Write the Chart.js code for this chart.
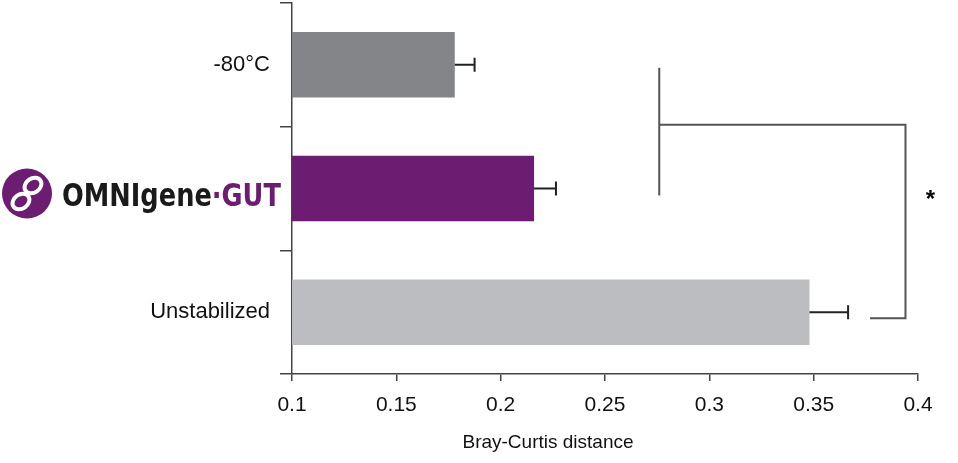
<!DOCTYPE html>
<html><head><meta charset="utf-8">
<script src="https://cdn.jsdelivr.net/npm/chart.js@4"></script>
<style>html,body{margin:0;background:#fff}#w{width:958px;height:463px}</style>
</head><body><div id="w"><canvas id="c"></canvas></div>
<script>
const categories = ['-80°C', 'OMNIgene·GUT', 'Unstabilized'];
const values = [0.178, 0.216, 0.348];
const errors = [0.0095, 0.0105, 0.0185];
const barColors = ['#848589', '#6c1d72', '#bcbdc0'];
const xTicks = [0.1, 0.15, 0.2, 0.25, 0.3, 0.35, 0.4];
const xTitle = 'Bray-Curtis distance';
const bracket = {leftX: 0.276, rightX: 0.394, lowX: 0.377, label: '*'};

const overlay = {
  id: 'overlay',
  afterDatasetsDraw(chart) {
    const {ctx, scales: {x, y}} = chart;
    ctx.save();
    ctx.strokeStyle = '#222'; ctx.lineWidth = 2;
    values.forEach((v, i) => {
      const yc = y.getPixelForValue(i);
      const x0 = x.getPixelForValue(v), x1 = x.getPixelForValue(v + errors[i]);
      ctx.beginPath(); ctx.moveTo(x0, yc); ctx.lineTo(x1, yc);
      ctx.moveTo(x1, yc - 7); ctx.lineTo(x1, yc + 7); ctx.stroke();
    });
    ctx.strokeStyle = '#555';
    const y0 = y.getPixelForValue(0), y1 = y.getPixelForValue(1), y2 = y.getPixelForValue(2);
    const xl = x.getPixelForValue(bracket.leftX), xr = x.getPixelForValue(bracket.rightX), xlow = x.getPixelForValue(bracket.lowX);
    const yTop = (y0 + y1) / 2 - 2;
    ctx.beginPath();
    ctx.moveTo(xl, y0 + 3); ctx.lineTo(xl, y1 + 7);
    ctx.moveTo(xl, yTop); ctx.lineTo(xr, yTop); ctx.lineTo(xr, y2 + 6); ctx.lineTo(xlow, y2 + 6);
    ctx.stroke();
    ctx.fillStyle = '#000'; ctx.font = 'bold 24px "Liberation Sans"';
    ctx.textAlign = 'center'; ctx.textBaseline = 'middle';
    ctx.fillText(bracket.label, xr + 25, y1 + 12);
    ctx.font = '19px "Liberation Sans"'; ctx.fillStyle = '#111';
    ctx.fillText(xTitle, 548, 443);
    const ly = y1 + 5;
    ctx.fillStyle = '#6c1d72';
    ctx.beginPath(); ctx.arc(27, ly, 25, 0, Math.PI * 2); ctx.fill();
    ctx.strokeStyle = '#fff'; ctx.lineWidth = 4;
    ctx.beginPath(); ctx.ellipse(33, ly - 8, 9, 7, -0.6, 0, Math.PI * 2); ctx.stroke();
    ctx.beginPath(); ctx.ellipse(21, ly + 8, 9, 7, -0.6, 0, Math.PI * 2); ctx.stroke();
    ctx.textAlign = 'left'; ctx.textBaseline = 'alphabetic';
    ctx.font = 'bold 31px "DejaVu Sans Condensed"';
    ctx.fillStyle = '#1a1a1a';
    const p1 = 'OMNIgene';
    ctx.save(); ctx.translate(62, ly + 12); ctx.scale(0.92, 1.05);
    ctx.fillText(p1, 0, 0);
    const w1 = ctx.measureText(p1).width;
    ctx.fillStyle = '#6c1d72';
    ctx.fillText('·GUT', w1, 0);
    ctx.restore();
    ctx.restore();
  }
};

new Chart(document.getElementById('c'), {
  type: 'bar',
  data: { labels: categories, datasets: [{ data: values, backgroundColor: barColors, barPercentage: 0.53, categoryPercentage: 1 }] },
  options: {
    indexAxis: 'y', responsive: true, maintainAspectRatio: false, animation: false,
    layout: { padding: { top: 3, right: 40, left: 0, bottom: 0 } },
    plugins: { legend: { display: false }, tooltip: { enabled: false } },
    scales: {
      x: {
        min: 0.1, max: 0.4,
        afterBuildTicks: s => { s.ticks = xTicks.map(v => ({ value: v })); },
        afterFit: s => { s.height = 89; s.paddingLeft = 0; s.paddingRight = 0; },
        ticks: { color: '#111', font: { family: 'Liberation Sans', size: 21 }, padding: 12, callback: v => String(v) },
        grid: { drawOnChartArea: false, tickLength: 7, color: '#444', lineWidth: 1.5 },
        border: { color: '#444', width: 1.5 }
      },
      y: {
        afterFit: s => { s.width = 292; s.paddingTop = 0; s.paddingBottom = 0; },
        ticks: { color: '#111', font: { family: 'Liberation Sans', size: 22 }, padding: 10,
          callback: (v, i) => i === 1 ? '' : categories[i] },
        grid: { offset: true, drawOnChartArea: false, tickLength: 12, color: '#444', lineWidth: 1.5 },
        border: { color: '#444', width: 1.5 }
      }
    }
  },
  plugins: [overlay]
});
</script></body></html>
